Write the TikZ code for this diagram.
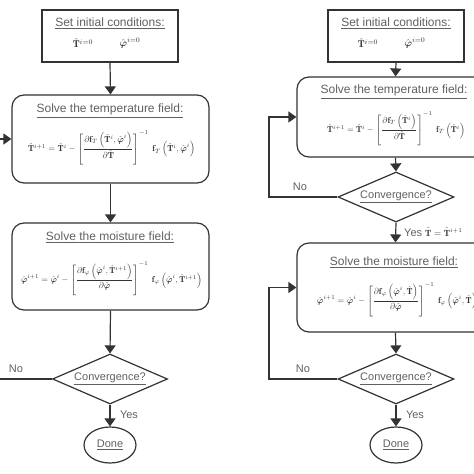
\documentclass[tikz,border=0pt]{standalone}
\usepackage{amsmath}
\usepackage{graphicx}
\usepackage{fontspec}
\newfontfamily\sansfnt{Liberation Sans}
\usetikzlibrary{shapes.geometric,arrows.meta}
\definecolor{lc}{HTML}{333333}
\definecolor{tx}{HTML}{606060}
\newcommand{\bT}{\hat{\mathbf T}}
\newcommand{\bp}{\hat{\boldsymbol\varphi}}
\begin{document}
\begin{tikzpicture}[x=1pt,y=-1pt,
  sq/.style={draw=lc,line width=1.2pt,inner sep=0pt},
  rbox/.style={sq,rounded corners=12pt},
  dia/.style={diamond,draw=lc,line width=1.2pt,inner sep=0pt,minimum width=115pt,minimum height=50pt},
  oval/.style={ellipse,draw=lc,line width=1.2pt,inner sep=0pt,minimum width=52pt,minimum height=36pt},
  head/.style={font=\sansfnt\fontsize{12}{14}\selectfont,text=tx,inner sep=0pt},
  lbl/.style={font=\sansfnt\fontsize{11}{13}\selectfont,text=tx,inner sep=0pt},
  mth/.style={text=lc,inner sep=0pt,font=\fontsize{10}{12}\selectfont},
  arr/.style={draw=lc,line width=1.2pt,-{Triangle[length=8pt,width=11pt]}}]
\useasboundingbox (0,0) rectangle (474,474);
\clip (0,0) rectangle (474,474);

% ---------------- left column ----------------
\node[sq,minimum width=136pt,minimum height=52pt] (Linit) at (110,36) {};
\node[head] (Lh1) at (110,23) {\underline{Set initial conditions:}};
\node[mth] (La) at (83,43) {$\bT^{i=0}$};
\node[mth] (Lb) at (130,43) {$\bp^{i=0}$};

\node[rbox,minimum width=197pt,minimum height=88pt] (Ltemp) at (110.5,139) {};
\node[head] (Lh2) at (110,111) {\underline{Solve the temperature field:}};
\node[mth] (Lf2) at (111.5,148) {\resizebox{167pt}{!}{$\displaystyle \bT^{i+1}=\bT^{i}-\left[\frac{\partial\mathbf f_T\left(\bT^{i},\bp^{i}\right)}{\partial\bT}\right]^{-1}\;\mathbf f_T\left(\bT^{i},\bp^{i}\right)$}};

\node[rbox,minimum width=197pt,minimum height=87pt] (Lmoist) at (110.5,266.5) {};
\node[head] (Lh3) at (110,237) {\underline{Solve the moisture field:}};
\node[mth] (Lf3) at (111.5,279) {\resizebox{181pt}{!}{$\displaystyle \bp^{i+1}=\bp^{i}-\left[\frac{\partial\mathbf f_\varphi\left(\bp^{i},\bT^{i+1}\right)}{\partial\bp}\right]^{-1}\;\mathbf f_\varphi\left(\bp^{i},\bT^{i+1}\right)$}};

\node[dia] (Lconv) at (110,379) {};
\node[lbl] (Lct) at (110,379) {\underline{Convergence?}};
\node[oval] (Ldone) at (110,445) {};
\node[lbl] (Ldt) at (110,445) {\underline{Done}};

\coordinate (Lloop) at (-10,379);
\draw[arr] (Linit.south) -- (Ltemp.north);
\draw[arr] (Ltemp.south) -- (Lmoist.north);
\draw[arr] (Lmoist.south) -- (Lconv.north);
\draw[arr] (Lconv.south) -- (Ldone.north);
\draw[arr] (Lconv.west) -- (Lloop) |- (Ltemp.west);
\node[lbl] (Lno) at (16,369) {No};
\node[lbl] (Lyes) at (129,415) {Yes};

% ---------------- right column ----------------
\node[sq,minimum width=136pt,minimum height=52pt] (Rinit) at (396,36) {};
\node[head] (Rh1) at (396,23) {\underline{Set initial conditions:}};
\node[mth] (Ra) at (368,43) {$\bT^{i=0}$};
\node[mth] (Rb) at (415,43) {$\bp^{i=0}$};

\node[rbox,minimum width=197pt,minimum height=80pt] (Rtemp) at (395.5,117) {};
\node[head] (Rh2) at (394,92) {\underline{Solve the temperature field:}};
\node[mth] (Rf2) at (396,129) {\resizebox{138pt}{!}{$\displaystyle \bT^{i+1}=\bT^{i}-\left[\frac{\partial\mathbf f_T\left(\bT^{i}\right)}{\partial\bT}\right]^{-1}\;\mathbf f_T\left(\bT^{i}\right)$}};

\node[dia,minimum width=116pt] (Rconv1) at (396,197) {};
\node[lbl] (Rct1) at (396,197) {\underline{Convergence?}};

\node[rbox,minimum width=197pt,minimum height=89pt] (Rmoist) at (395.5,287.5) {};
\node[head] (Rh3) at (394,262) {\underline{Solve the moisture field:}};
\node[mth] (Rf3) at (397,300) {\resizebox{160pt}{!}{$\displaystyle \bp^{i+1}=\bp^{i}-\left[\frac{\partial\mathbf f_\varphi\left(\bp^{i},\bT\right)}{\partial\bp}\right]^{-1}\;\mathbf f_\varphi\left(\bp^{i},\bT\right)$}};

\node[dia,minimum width=116pt] (Rconv2) at (396,379) {};
\node[lbl] (Rct2) at (396,379) {\underline{Convergence?}};
\node[oval] (Rdone) at (396,445) {};
\node[lbl] (Rdt) at (396,445) {\underline{Done}};

\coordinate (Rloop1) at (269,197);
\coordinate (Rloop2) at (269,379);
\draw[arr] (Rinit.south) -- (Rtemp.north);
\draw[arr] (Rtemp.south) -- (Rconv1.north);
\draw[arr] (Rconv1.south) -- (Rmoist.north);
\draw[arr] (Rmoist.south) -- (Rconv2.north);
\draw[arr] (Rconv2.south) -- (Rdone.north);
\draw[arr] (Rconv1.west) -- (Rloop1) |- (Rtemp.west);
\draw[arr] (Rconv2.west) -- (Rloop2) |- (Rmoist.west);
\node[lbl] (Rno1) at (300,187) {No};
\node[lbl] (Rno2) at (303,369) {No};
\node[lbl,anchor=west] (Ryes1) at (404,232) {Yes \textcolor{lc}{\fontsize{9}{11}\selectfont$\bT=\bT^{i+1}$}};
\node[lbl] (Ryes2) at (415,415) {Yes};
\end{tikzpicture}
\end{document}
